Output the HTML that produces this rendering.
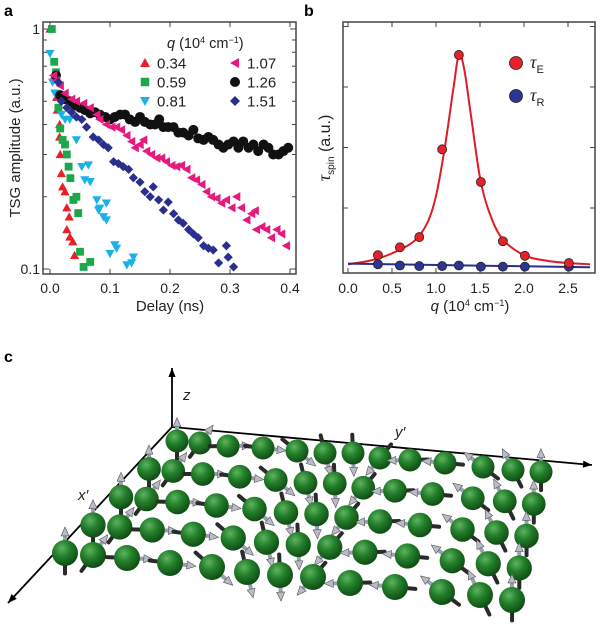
<!DOCTYPE html>
<html><head><meta charset="utf-8"><style>
html,body{margin:0;padding:0;background:#fff;overflow:hidden;}
svg{display:block;font-family:"Liberation Sans",sans-serif;}
</style></head><body>
<svg id="fig" width="600" height="626" viewBox="0 0 600 626" xmlns="http://www.w3.org/2000/svg">
<defs>
<radialGradient id="ball" cx="0.38" cy="0.32" r="0.7"><stop offset="0" stop-color="#5fb35f"/><stop offset="0.45" stop-color="#24802c"/><stop offset="1" stop-color="#0f4a14"/></radialGradient>
</defs>
<text x="4" y="16" font-size="16" font-weight="bold">a</text>
<text x="304" y="16" font-size="16" font-weight="bold">b</text>
<text x="4" y="362" font-size="16" font-weight="bold">c</text>
<g id="pa"></g>
<g id="pb"></g>
<g id="pc"></g>
</svg>
<script>
// ---------- Panel a data ----------
const aXTicks=[0,0.1,0.2,0.3,0.4];
const aXTickLabels=["0.0","0.1","0.2","0.3","0.4"];
const redDelay=[0,0.006,0.011,0.012,0.016,0.016,0.017,0.019,0.021,0.025,0.028,0.032,0.028,0.033,0.038,0.041];
const redAmp=[1.0,0.63,0.52,0.46,0.40,0.355,0.30,0.25,0.22,0.21,0.18,0.165,0.146,0.136,0.13,0.114];
const greenDelay=[0.003,0.007,0.010,0.014,0.017,0.021,0.025,0.028,0.031,0.034,0.039,0.044,0.047,0.050,0.056,0.067];
const greenAmp=[1.0,0.73,0.66,0.47,0.385,0.345,0.33,0.30,0.267,0.239,0.194,0.20,0.171,0.118,0.102,0.107];
const cyanDelay=[0,0.0044,0.008,0.019,0.025,0.033,0.044,0.053,0.058,0.064,0.067,0.078,0.081,0.083,0.089,0.094,0.094,0.1,0.108,0.111,0.128,0.136,0.139];
const cyanAmp=[0.79,0.60,0.54,0.44,0.42,0.42,0.345,0.267,0.235,0.271,0.231,0.194,0.176,0.179,0.165,0.188,0.16,0.116,0.126,0.122,0.104,0.106,0.112];
const pinkDelay=[0.006,0.011,0.017,0.025,0.036,0.044,0.056,0.067,0.078,0.083,0.094,0.103,0.111,0.119,0.128,0.136,0.142,0.15,0.156,0.161,0.169,0.178,0.186,0.194,0.203,0.211,0.219,0.228,0.236,0.244,0.253,0.261,0.269,0.278,0.286,0.294,0.303,0.311,0.319,0.328,0.336,0.342,0.344,0.353,0.361,0.369,0.378,0.386,0.394];
const pinkAmp=[0.64,0.61,0.58,0.54,0.51,0.50,0.49,0.47,0.44,0.42,0.40,0.39,0.39,0.38,0.36,0.34,0.32,0.33,0.345,0.31,0.30,0.29,0.29,0.28,0.27,0.267,0.27,0.26,0.24,0.235,0.225,0.21,0.20,0.197,0.188,0.194,0.18,0.20,0.18,0.16,0.17,0.175,0.146,0.15,0.146,0.135,0.146,0.14,0.125];
const blackDelay=[0.01,0.017,0.025,0.033,0.042,0.05,0.058,0.067,0.075,0.083,0.092,0.1,0.108,0.117,0.125,0.133,0.142,0.15,0.158,0.167,0.175,0.182,0.189,0.197,0.206,0.214,0.222,0.231,0.239,0.247,0.256,0.264,0.272,0.281,0.289,0.297,0.306,0.314,0.322,0.331,0.339,0.347,0.356,0.364,0.372,0.381,0.389,0.397];
const blackAmp=[0.64,0.53,0.51,0.50,0.48,0.47,0.46,0.445,0.45,0.44,0.43,0.42,0.43,0.44,0.44,0.42,0.41,0.43,0.41,0.40,0.40,0.42,0.39,0.39,0.39,0.37,0.37,0.36,0.38,0.35,0.345,0.355,0.345,0.33,0.32,0.33,0.34,0.32,0.34,0.32,0.33,0.31,0.33,0.32,0.30,0.30,0.31,0.32];
const navyDelay=[0.014,0.019,0.028,0.036,0.044,0.053,0.061,0.072,0.081,0.089,0.097,0.106,0.114,0.122,0.131,0.139,0.15,0.158,0.167,0.172,0.181,0.189,0.197,0.206,0.214,0.222,0.231,0.239,0.247,0.256,0.264,0.272,0.281,0.294,0.297,0.306];
const navyAmp=[0.60,0.50,0.47,0.45,0.43,0.42,0.39,0.355,0.345,0.33,0.32,0.28,0.275,0.267,0.26,0.24,0.23,0.21,0.2,0.22,0.194,0.176,0.19,0.17,0.16,0.155,0.146,0.14,0.135,0.125,0.122,0.12,0.106,0.125,0.112,0.102];
// ---------- Panel b data ----------
const bXTicks=[0,0.5,1.0,1.5,2.0,2.5];
const bXTickLabels=["0.0","0.5","1.0","1.5","2.0","2.5"];
const bYTicks=[1,2,3,4];
const qVals=[0.34,0.59,0.81,1.07,1.26,1.51,1.76,2.01,2.51];
const tauE=[0.22,0.35,0.52,1.97,3.53,1.43,0.45,0.21,0.09];
const tauR=[0.07,0.05,0.04,0.04,0.05,0.03,0.03,0.03,0.03];
const fitQ=[0,0.25,0.5,0.75,0.9,1.0,1.1,1.2,1.26,1.32,1.4,1.5,1.6,1.75,2.0,2.25,2.5,2.75];
const fitE=[0.07,0.13,0.25,0.45,0.75,1.2,2.0,3.0,3.53,3.3,2.5,1.5,0.95,0.5,0.22,0.13,0.09,0.07];
const fitRQ=[0,2.75];
const fitR=[0.08,0.02];

const NS="http://www.w3.org/2000/svg";
function mk(parent,tag,attrs){const e=document.createElementNS(NS,tag);for(const k in attrs)e.setAttribute(k,attrs[k]);parent.appendChild(e);return e;}

// ---- Panel a ----
const pa=document.getElementById('pa');
const ax={l:43,r:296,t:22,b:274};
function axX(d){return 50+d*600;}
function axY(a){return 29+(0-Math.log10(a))*240;}
let fr=mk(pa,'rect',{x:ax.l,y:ax.t,width:ax.r-ax.l,height:ax.b-ax.t,fill:'none',stroke:'#444','stroke-width':1.5});

aXTicks.forEach((v,i)=>{const x=axX(v);
 mk(pa,'line',{x1:x,y1:ax.b,x2:x,y2:ax.b-5,stroke:'#444'});mk(pa,'line',{x1:x,y1:ax.t,x2:x,y2:ax.t+5,stroke:'#444'});
 const t=mk(pa,'text',{x:x,y:293,'font-size':14,'text-anchor':'middle',fill:'#222'});t.textContent=aXTickLabels[i];
 });
for(let m=1;m<=10;m++){const v=m/10;const y=axY(v);const L=(m===1||m===10)?6:4;
 mk(pa,'line',{x1:ax.l,y1:y,x2:ax.l+L,y2:y,stroke:'#444'});mk(pa,'line',{x1:ax.r,y1:y,x2:ax.r-L,y2:y,stroke:'#444'});}
[[1,"1"],[0.1,"0.1"]].forEach(p=>{const t=mk(pa,'text',{x:40,y:axY(p[0])+5,'font-size':14,'text-anchor':'end',fill:'#222'});t.textContent=p[1];
 });
let xt=mk(pa,'text',{x:170,y:311,'font-size':15,'text-anchor':'middle',fill:'#222'});xt.textContent='Delay (ns)';

let yt=mk(pa,'text',{x:0,y:0,'font-size':15,'text-anchor':'middle',fill:'#222',transform:'translate(20,148) rotate(-90)'});yt.textContent='TSG amplitude (a.u.)';

function marker(g,shape,x,y,c,s){s=s||4.5;let e;
 if(shape==='up')e=mk(g,'polygon',{points:`${x},${y-s} ${x+s},${y+s*0.8} ${x-s},${y+s*0.8}`,fill:c});
 else if(shape==='down')e=mk(g,'polygon',{points:`${x},${y+s} ${x+s},${y-s*0.8} ${x-s},${y-s*0.8}`,fill:c});
 else if(shape==='left')e=mk(g,'polygon',{points:`${x-s},${y} ${x+s*0.8},${y-s} ${x+s*0.8},${y+s}`,fill:c});
 else if(shape==='sq')e=mk(g,'rect',{x:x-s*0.85,y:y-s*0.85,width:s*1.7,height:s*1.7,fill:c});
 else if(shape==='dia')e=mk(g,'polygon',{points:`${x},${y-s} ${x+s},${y} ${x},${y+s} ${x-s},${y}`,fill:c});
 else e=mk(g,'circle',{cx:x,cy:y,r:s,fill:c});return e;}
const series=[
 ['series-q-0.34','up','#e8202a',redDelay,redAmp],
 ['series-q-0.59','sq','#1aa84a',greenDelay,greenAmp],
 ['series-q-0.81','down','#1ab0e8',cyanDelay,cyanAmp],
 ['series-q-1.26','circ','#111111',blackDelay,blackAmp],
 ['series-q-1.07','left','#e6197f',pinkDelay,pinkAmp],
 ['series-q-1.51','dia','#2a2e8c',navyDelay,navyAmp]];
series.forEach(s=>{const g=mk(pa,'g',{});
 s[3].forEach((d,i)=>{const m=marker(g,s[1],axX(d),axY(s[4][i]),s[2],s[1]==='circ'?5:4.6);
  });});
const lg=mk(pa,'g',{});
let lt=mk(lg,'text',{x:167,y:48,'font-size':14.5,fill:'#222'});
lt.innerHTML='<tspan font-style="italic">q</tspan> (10<tspan dy="-5" font-size="9">4</tspan><tspan dy="5"> cm</tspan><tspan dy="-5" font-size="9">−1</tspan><tspan dy="5">)</tspan>';

const legA=[['up','#e8202a','0.34',0],['sq','#1aa84a','0.59',0],['down','#1ab0e8','0.81',0],['left','#e6197f','1.07',1],['circ','#111','1.26',1],['dia','#2a2e8c','1.51',1]];
legA.forEach((e,i)=>{const row=i%3;const x0=e[3]?235:145;const y=63+row*19;
 const m=marker(lg,e[0],x0,y,e[1],5);
 const t=mk(lg,'text',{x:x0+12,y:y+5.5,'font-size':15,fill:'#222'});t.textContent=e[2];
 });

// ---- Panel b ----
const pb=document.getElementById('pb');
const bx={l:343,r:595,t:22,b:273};
function bX(q){return 348+q*88;}
function bY(v){return 268.5-v*60.5;}
let fb=mk(pb,'rect',{x:bx.l,y:bx.t,width:bx.r-bx.l,height:bx.b-bx.t,fill:'none',stroke:'#444','stroke-width':1.5});

bXTicks.forEach((v,i)=>{const x=bX(v);mk(pb,'line',{x1:x,y1:bx.b,x2:x,y2:bx.b-5,stroke:'#444'});mk(pb,'line',{x1:x,y1:bx.t,x2:x,y2:bx.t+5,stroke:'#444'});
 const t=mk(pb,'text',{x:x,y:293,'font-size':14,'text-anchor':'middle',fill:'#222'});t.textContent=bXTickLabels[i];
 });
bYTicks.forEach(v=>{const y=bY(v);if(y>bx.t+2){mk(pb,'line',{x1:bx.l,y1:y,x2:bx.l+5,y2:y,stroke:'#444'});mk(pb,'line',{x1:bx.r,y1:y,x2:bx.r-5,y2:y,stroke:'#444'});}});
let bxt=mk(pb,'text',{x:470,y:311,'font-size':15,'text-anchor':'middle',fill:'#222'});
bxt.innerHTML='<tspan font-style="italic">q</tspan> (10<tspan dy="-5" font-size="9">4</tspan><tspan dy="5"> cm</tspan><tspan dy="-5" font-size="9">−1</tspan><tspan dy="5">)</tspan>';

let byt=mk(pb,'text',{x:0,y:0,'font-size':16,'text-anchor':'middle',fill:'#222',transform:'translate(330,148) rotate(-90)'});
byt.innerHTML='<tspan font-family="Liberation Serif" font-style="italic" font-size="18">τ</tspan><tspan font-size="10" dy="4">spin</tspan><tspan dy="-4"> (a.u.)</tspan>';

function smooth(xs,ys){const P=xs.map((q,i)=>[bX(q),bY(ys[i])]);let d=`M${P[0][0]},${P[0][1]}`;
 for(let i=0;i<P.length-1;i++){const p0=P[Math.max(0,i-1)],p1=P[i],p2=P[i+1],p3=P[Math.min(P.length-1,i+2)];
  d+=` C${p1[0]+(p2[0]-p0[0])/6},${p1[1]+(p2[1]-p0[1])/6} ${p2[0]-(p3[0]-p1[0])/6},${p2[1]-(p3[1]-p1[1])/6} ${p2[0]},${p2[1]}`;}return d;}
let fe=mk(pb,'path',{d:smooth(fitQ,fitE),fill:'none',stroke:'#e01b24','stroke-width':2});

let frr=mk(pb,'path',{d:smooth(fitRQ,fitR),fill:'none',stroke:'#2a2e8c','stroke-width':2});

qVals.forEach((q,i)=>{let c=mk(pb,'circle',{cx:bX(q),cy:bY(tauR[i]),r:4.5,fill:'#2d3594',stroke:'#222','stroke-width':0.8});
 
 let e=mk(pb,'circle',{cx:bX(q),cy:bY(tauE[i]),r:4.5,fill:'#e8202a',stroke:'#222','stroke-width':0.8});
 });
[['#e8202a','E',63],['#2d3594','R',96]].forEach(L=>{const c=mk(pb,'circle',{cx:516,cy:L[2],r:6.5,fill:L[0],stroke:'#222','stroke-width':0.8});
 
 const t=mk(pb,'text',{x:530,y:L[2]+5,'font-size':18,fill:'#222'});
 t.innerHTML=`<tspan font-family="Liberation Serif" font-style="italic">τ</tspan><tspan font-size="11" dy="5">${L[1]}</tspan>`;
 });

// ---- Panel c (illustration) ----
const pc=document.getElementById('pc');
function arrowLine(g,x1,y1,x2,y2,name){const l=mk(g,'line',{x1,y1,x2,y2,stroke:'#000','stroke-width':1.8});
 
 const a=Math.atan2(y2-y1,x2-x1),s=9;
 mk(g,'polygon',{points:`${x2},${y2} ${x2-s*Math.cos(a)+s*0.4*Math.sin(a)},${y2-s*Math.sin(a)-s*0.4*Math.cos(a)} ${x2-s*Math.cos(a)-s*0.4*Math.sin(a)},${y2-s*Math.sin(a)+s*0.4*Math.cos(a)}`,fill:'#000'});}
arrowLine(pc,172,427,172,368,'z-axis');
arrowLine(pc,172,427,592,465,'y-prime-axis');
arrowLine(pc,172,427,8,603,'x-prime-axis');
[['z',183,400,'z-label'],['y′',395,437,'y-prime-label'],['x′',78,500,'x-prime-label']].forEach(L=>{const t=mk(pc,'text',{x:L[1],y:L[2],'font-size':15,'font-style':'italic',fill:'#222'});t.textContent=L[0];
 });
const backX=[177,200,228,263,297,325,353,380,410,445,483,513,541],backY=[441,443,446,448,451,453,453,458,460,463,467,470,472];
const frontX=[65,93,127,170,212,247,280,313,350,395,442,480,512],frontY=[553,555,558,563,567,572,575,577,583,587,592,595,600];
const spinPhase=[0,0.6,1.5,1.6,2.2,2.9,3.1,3.8,4.6,4.7,5.3,5.8,6.28];
const NR=5;
for(let r=0;r<NR;r++){const t=r/(NR-1);const g=mk(pc,'g',{});
 for(let c=0;c<backX.length;c++){
  const x=backX[c]+(frontX[c]-backX[c])*t, y=backY[c]+(frontY[c]-backY[c])*t;
  const rad=11.5+1.5*t;
  let dx=1,dy=0;if(c<backX.length-1){dx=(backX[c+1]+(frontX[c+1]-backX[c+1])*t)-x;dy=(backY[c+1]+(frontY[c+1]-backY[c+1])*t)-y;}
  const n=Math.hypot(dx,dy)||1;dx/=n;dy/=n;
  const ph=spinPhase[c];const L=rad*1.85;
  const ux=Math.sin(ph)*dx*L, uy=-Math.cos(ph)*L + Math.sin(ph)*dy*L;
  mk(g,'line',{x1:x,y1:y,x2:x-ux*0.85,y2:y-uy*0.85,stroke:'#2a2a2a','stroke-width':4,'stroke-linecap':'round'});
  mk(g,'line',{x1:x,y1:y,x2:x+ux*0.8,y2:y+uy*0.8,stroke:'#9aa0ac','stroke-width':4});
  const ang=Math.atan2(uy,ux),hx=x+ux,hy=y+uy,s=7;
  mk(g,'polygon',{points:`${hx+2*Math.cos(ang)},${hy+2*Math.sin(ang)} ${hx-s*Math.cos(ang)+4*Math.sin(ang)},${hy-s*Math.sin(ang)-4*Math.cos(ang)} ${hx-s*Math.cos(ang)-4*Math.sin(ang)},${hy-s*Math.sin(ang)+4*Math.cos(ang)}`,fill:'#b8bcc6',stroke:'#555','stroke-width':0.6});
  const b=mk(g,'circle',{cx:x,cy:y,r:rad,fill:'url(#ball)'});
  
 }}
</script>
</body></html>
